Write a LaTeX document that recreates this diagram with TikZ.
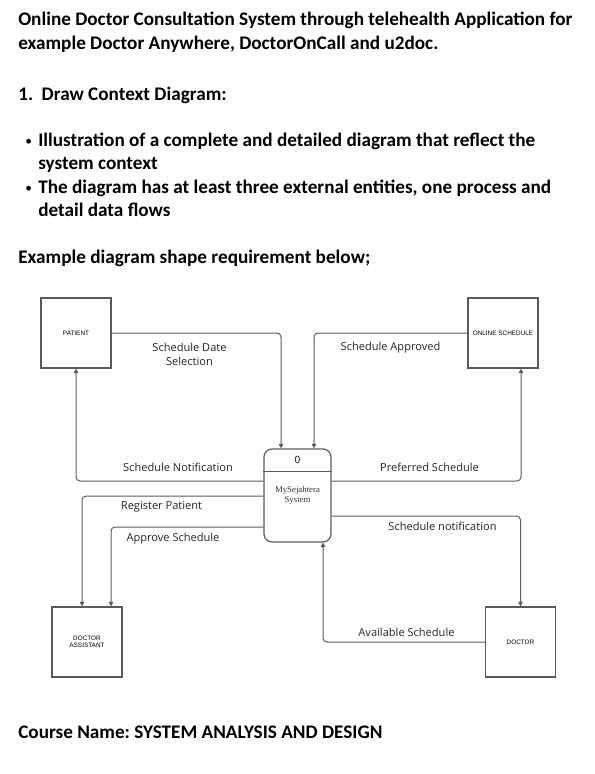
\documentclass[tikz,border=0pt]{standalone}
\usepackage{fontspec}
\setmainfont{Carlito}
\newfontfamily\lblfont{Open Sans}
\newfontfamily\entfont{Liberation Sans}
\newfontfamily\procfont{Liberation Serif}
\usetikzlibrary{arrows.meta,calc}
\definecolor{linegray}{HTML}{5A5A5A}
\frenchspacing
\tikzset{
  head/.style={anchor=base west,inner sep=0pt,font=\fontsize{14.4}{17}\selectfont\bfseries},
  entity/.style={draw=linegray,line width=0.9pt,minimum width=52.5pt,minimum height=52.5pt,inner sep=0pt,align=center,font=\entfont\fontsize{4.8}{5.6}\selectfont},
  process/.style={draw=linegray,line width=0.9pt,rounded corners=6pt,minimum width=50.25pt,minimum height=69.75pt,inner sep=0pt},
  flow/.style={draw=linegray,line width=0.75pt,rounded corners=3pt,-{Triangle[length=3.4pt,width=3.4pt]}},
  lbl/.style={inner sep=0pt,align=center,font=\lblfont\fontsize{8.3}{10}\selectfont,text=black!85}
}
\begin{document}
\begin{tikzpicture}[x=0.75pt,y=-0.75pt]
\useasboundingbox (0,0) rectangle (595,774);
% heading text
\node[head] (t1) at (18,25.5) {Online Doctor Consultation System through telehealth Application for};
\node[head] (t2) at (18,50) {example Doctor Anywhere, DoctorOnCall and u2doc.};
\node[head] (t3) at (18,100) {1.\hspace{0.45em}Draw Context Diagram:};
\node[head,font=\fontsize{10}{12}\selectfont] (b1) at (25,145.5) {\textbullet};
\node[head] (t4) at (38,146.5) {Illustration of a complete and detailed diagram that reflect the};
\node[head] (t5) at (38,169.5) {system context};
\node[head,font=\fontsize{10}{12}\selectfont] (b2) at (25,192.5) {\textbullet};
\node[head] (t6) at (38,193.5) {The diagram has at least three external entities, one process and};
\node[head] (t7) at (38,216.5) {detail data flows};
\node[head] (t8) at (18,263.5) {Example diagram shape requirement below;};
\node[head] (t9) at (18,738) {Course Name: SYSTEM ANALYSIS AND DESIGN};

% entities
\node[entity] (pat) at (76,333) {PATIENT};
\node[entity] (ons) at (503,333) {ONLINE SCHEDULE};
\node[entity] (da) at (87,642) {DOCTOR\\ASSISTANT};
\node[entity] (doc) at (520.5,642) {DOCTOR};

% process
\node[process] (proc) at (297.5,495.5) {};
\draw[draw=linegray,line width=0.9pt] ($(proc.north west)+(0,23)$) -- ($(proc.north east)+(0,23)$);
\node[inner sep=0pt,font=\lblfont\fontsize{7.5}{9}\selectfont] (pnum) at ($(proc.north)+(0,11.5)$) {0};
\node[inner sep=0pt,align=center,font=\procfont\fontsize{6.6}{7.6}\selectfont,text=black!80] (pname) at ($(proc.north)+(0,47)$) {MySejahtera\\System};

% flows
\draw[flow] (pat.east) -| ($(proc.north)+(-16.5,0)$);
\draw[flow] (ons.west) -| ($(proc.north)+(16.5,0)$);
\draw[flow] ($(proc.west)+(0,-14.5)$) -| (pat.south);
\draw[flow] ($(proc.east)+(0,-14.5)$) -| ($(ons.south)+(18,0)$);
\draw[flow] ($(proc.west)+(0,0.5)$) -| ($(da.north)+(-5,0)$);
\draw[flow] ($(proc.west)+(0,31.5)$) -| ($(da.north)+(24,0)$);
\draw[flow] ($(proc.east)+(0,20.5)$) -| (doc.north);
\draw[flow] (doc.west) -| ($(proc.south)+(25.5,0)$);

% labels
\node[lbl] (l1) at (189.5,354.5) {Schedule Date\\Selection};
\node[lbl] (l2) at (390.5,348) {Schedule Approved};
\node[lbl] (l3) at (178,467) {Schedule Notification};
\node[lbl] (l4) at (429.5,467) {Preferred Schedule};
\node[lbl] (l5) at (161.5,507) {Register Patient};
\node[lbl] (l6) at (173,539) {Approve Schedule};
\node[lbl] (l7) at (442.5,526) {Schedule notification};
\node[lbl] (l8) at (406.5,632) {Available Schedule};
\end{tikzpicture}
\end{document}
